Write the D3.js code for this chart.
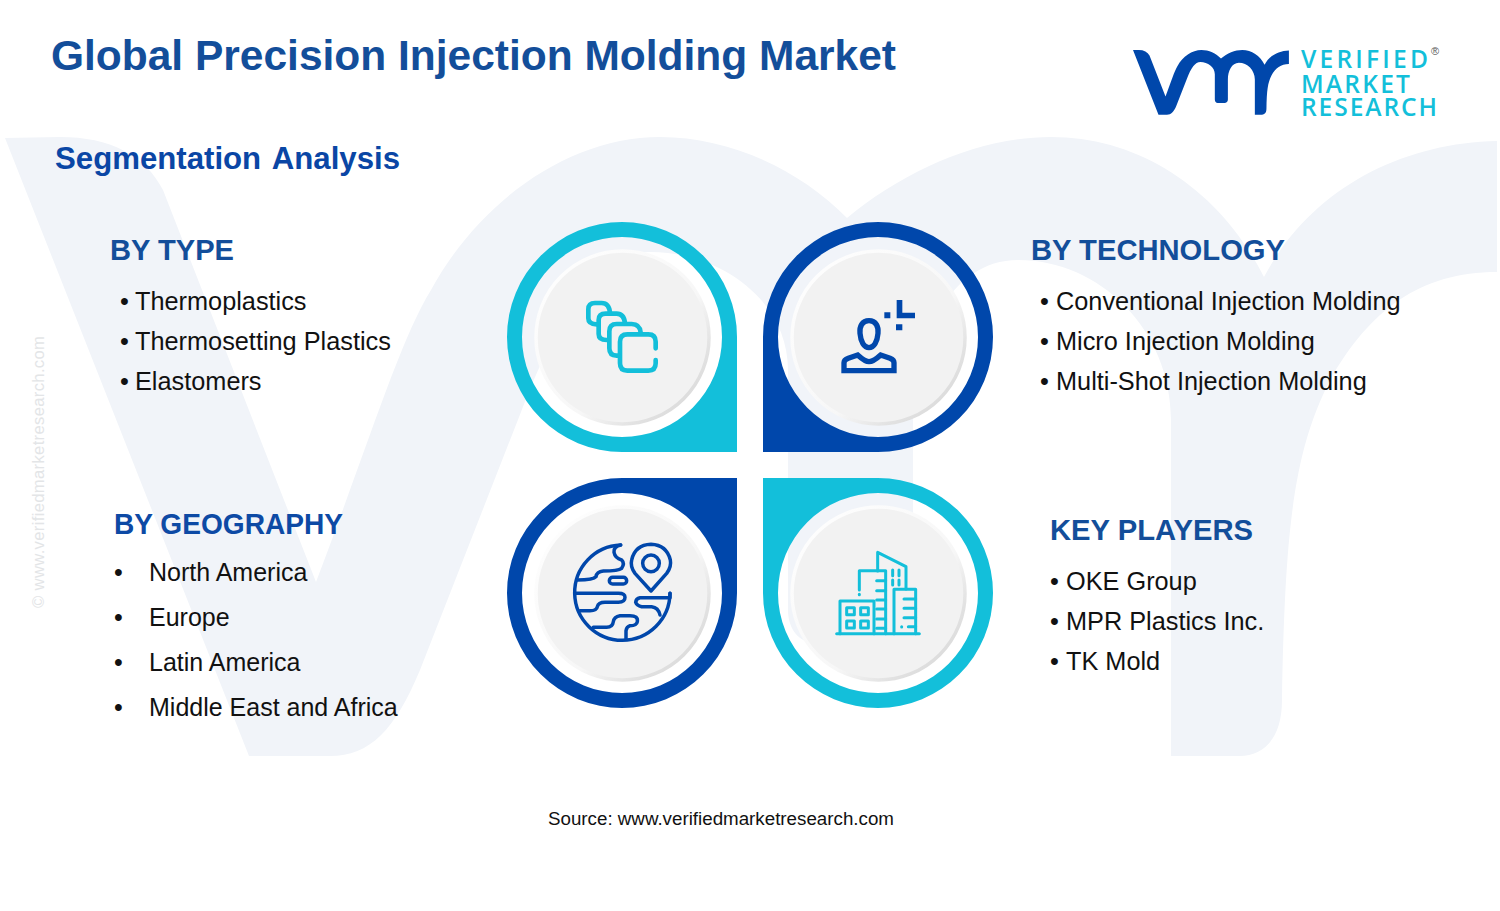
<!DOCTYPE html>
<html><head><meta charset="utf-8">
<script src="https://cdnjs.cloudflare.com/ajax/libs/d3/7.9.0/d3.min.js"></script>
<style>html,body{margin:0;padding:0;background:#fff}svg{display:block}text{font-family:"Liberation Sans",Arial,sans-serif}</style>
</head><body><svg id="c" width="1500" height="911" viewBox="0 0 1500 911"></svg>
<script>
const titleText = "Global Precision Injection Molding Market";
const subtitleText = "Segmentation Analysis";
const sourceText = "Source: www.verifiedmarketresearch.com";
const sideText = "© www.verifiedmarketresearch.com";
const typeItems = ["Thermoplastics","Thermosetting Plastics","Elastomers"];
const technologyItems = ["Conventional Injection Molding","Micro Injection Molding","Multi-Shot Injection Molding"];
const geographyItems = ["North America","Europe","Latin America","Middle East and Africa"];
const playerItems = ["OKE Group","MPR Plastics Inc.","TK Mold"];
const logoWords = ["VERIFIED","MARKET","RESEARCH"];

const BLUE="#0047ab", CYAN="#13bfda", HEAD="#134e9a";
const svg=d3.select("#c");
const defs=svg.append("defs");
const g=defs.append("linearGradient").attr("id","rim").attr("x1",0).attr("y1",0).attr("x2",1).attr("y2",1);
[[0,"#ffffff"],[.6,"#f7f7f7"],[.78,"#e2e2e2"],[1,"#d4d4d4"]].forEach(s=>g.append("stop").attr("offset",s[0]).attr("stop-color",s[1]));

const vmr="M5,138 L60,137 C110,137 145,155 163,190 L316,582 C370,440 400,340 431,290 C480,200 570,137 660,137 C730,137 800,170 847,218 C905,170 980,137 1051,137 C1140,137 1220,190 1264,277 C1310,190 1400,143 1497,141 L1497,272 C1420,272 1370,310 1330,380 C1295,450 1285,520 1282,700 C1282,740 1262,756 1240,756 L1171,756 L1171,420 C1171,330 1100,260 1018,260 C950,260 913,340 913,420 L913,610 C913,630 900,643 880,643 L815,643 C800,643 788,630 788,610 L788,370 C788,300 720,252 650,252 C600,252 560,310 521,412 L420,670 C395,730 370,756 330,756 L249,756 Z";
svg.append("path").attr("d",vmr).attr("fill","#f1f4f9");
svg.append("path").attr("d",vmr).attr("fill",BLUE)
  .attr("transform","translate(1133,50) scale(0.1045) translate(-5,-137)");

function text(x,y,s,size,fill,weight,len){
  const t=svg.append("text").attr("x",x).attr("y",y).attr("font-size",size).attr("fill",fill)
    .attr("font-weight",weight||"normal").text(s);
  if(len) t.attr("textLength",len).attr("lengthAdjust","spacingAndGlyphs");
  return t;
}
text(51,70,titleText,43,HEAD,"bold",845);
text(55,169,subtitleText,30.5,"#0a46a5","bold",345).attr("word-spacing",3);
text(548,825,sourceText,18.75,"#111");
svg.append("text").attr("transform","translate(44,608) rotate(-90)").attr("font-size",16.7).attr("fill","#e3e5e7").attr("letter-spacing",.3).text(sideText);

const logoY=d3.scaleOrdinal().domain(logoWords).range([68,93,116]);
const logoW=d3.scaleOrdinal().domain(logoWords).range([127,109,136]);
svg.append("g").selectAll("text").data(logoWords).join("text")
  .attr("x",1301).attr("y",d=>logoY(d)).attr("fill",CYAN).attr("font-size",24.6).attr("font-weight",600)
  .style("font-family","'Open Sans'").attr("textLength",d=>logoW(d)).attr("lengthAdjust","spacing").text(d=>d);
svg.append("text").attr("x",1431).attr("y",55).attr("fill","#555").attr("font-size",11).text("®");

const blocks=[
 {head:"BY TYPE",hx:110,hy:260,hl:124,color:HEAD,items:typeItems,bx:120,tx:135,y0:310,step:40,fs:25.3},
 {head:"BY TECHNOLOGY",hx:1031,hy:260,hl:254,color:HEAD,items:technologyItems,bx:1040,tx:1056,y0:310,step:40,fs:25.3},
 {head:"BY GEOGRAPHY",hx:114,hy:534,hl:229,color:"#0d4aa5",items:geographyItems,bx:114,tx:149,y0:581,step:45,fs:25},
 {head:"KEY PLAYERS",hx:1050,hy:540,hl:203,color:HEAD,items:playerItems,bx:1050,tx:1066,y0:590,step:40,fs:25.3}
];
blocks.forEach(b=>{
  text(b.hx,b.hy,b.head,29.3,b.color,"bold",b.hl);
  const y=d3.scaleLinear().domain([0,1]).range([b.y0,b.y0+b.step]);
  const gg=svg.append("g");
  gg.selectAll("text.t").data(b.items).join("text").attr("class","t").attr("x",b.tx).attr("y",(d,i)=>y(i)).attr("font-size",b.fs).attr("fill","#111").text(d=>d);
  gg.selectAll("text.b").data(b.items).join("text").attr("class","b").attr("x",b.bx).attr("y",(d,i)=>y(i)).attr("font-size",b.fs).attr("fill","#111").text("•");
});

function teardrop(cx,cy,sx,sy,color){
  const R=115,r=100,phi=Math.atan2(sy,sx),p=d3.path();
  p.arc(cx,cy,R,phi-Math.PI/4,phi+Math.PI/4,true);
  p.lineTo(cx+sx*R,cy+sy*R);p.closePath();
  p.moveTo(cx+r,cy);p.arc(cx,cy,r,0,2*Math.PI);p.closePath();
  svg.append("path").attr("d",p.toString()).attr("fill",color).attr("fill-rule","evenodd");
  svg.append("circle").attr("cx",cx+.5).attr("cy",cy+.5).attr("r",86.5).attr("fill","#f2f2f2").attr("stroke","url(#rim)").attr("stroke-width",3.5);
}
teardrop(622,337,1,1,CYAN);
teardrop(878,337,-1,1,BLUE);
teardrop(622,593,1,-1,BLUE);
teardrop(878,593,-1,-1,CYAN);

function icon(ox,oy,color,sw){
  return svg.append("g").attr("transform",`translate(${ox},${oy}) scale(${1/3})`).attr("fill","none").attr("stroke",color).attr("stroke-width",sw).attr("stroke-linecap","round").attr("stroke-linejoin","round");
}
// stacked layers
const i1=icon(490,210,CYAN,14);
["M497,415 V395 Q497,373 475,373 H412 Q390,373 390,395 V460 Q390,482 412,482 H475 Q497,482 497,460 V450",
 "M452,368 Q450,342 425,342 H380 Q358,342 358,364 V415 Q358,437 380,437 H385",
 "M405,340 Q402,311 380,311 H347 Q326,311 326,330 V372 Q326,390 350,390",
 "M360,310 Q358,279 335,279 H315 Q295,279 295,298 V325 Q295,343 320,343"].forEach(d=>i1.append("path").attr("d",d));
// person
const i2=icon(750,210,BLUE,16);
i2.attr("stroke-linecap","butt").attr("stroke-linejoin","miter");
i2.append("path").attr("d","M357,332 C378,332 386,350 384,370 C382,395 372,413 357,413 C342,413 332,395 330,370 C328,350 336,332 357,332 Z");
i2.append("path").attr("d","M282,482 V458 Q282,450 295,445 L323,435 Q345,455 357,455 Q370,455 392,435 L420,445 Q432,450 432,458 V482 Z");
i2.append("path").attr("stroke","none").attr("fill",BLUE).attr("d","M403,307 H421 V325 H403 Z M438,343 H457 V361 H438 Z M440,270 H457 V308 H495 V325 H440 Z");
// globe
const i3=icon(490,465,BLUE,10.5);
["M392,240 A143,143 0 1 0 540,385",
 "M392,240 Q370,245 372,262 Q375,280 395,285 Q405,295 395,310 Q385,318 340,318 Q320,320 318,335 Q310,345 262,345",
 "M255,385 H385 Q405,385 405,397 Q405,412 385,412 H345 Q325,412 322,425 Q320,437 300,437 H270",
 "M310,487 H350 Q368,487 370,470 Q372,455 390,452 H420 Q445,452 442,470 Q440,482 420,482 Q410,485 408,497 V522",
 "M540,385 V398 H450 Q438,400 437,412 Q440,422 455,425 H485 Q505,427 510,450",
 "M483,378 L435,325 Q420,305 425,285 Q435,240 483,238 Q530,240 541,285 Q545,305 530,325 Z"].forEach(d=>i3.append("path").attr("d",d));
i3.append("rect").attr("x",358).attr("y",337).attr("width",52).attr("height",20).attr("rx",10);
i3.append("circle").attr("cx",483).attr("cy",295).attr("r",25);
// buildings
const i4=icon(750,465,CYAN,9);
["M260,506 H508","M270,506 V408 H372 V506",
 "M328,375 V317 H407 V506","M328,388 V389",
 "M380,347 H407 M380,377 H407 M380,405 H407 M380,432 H407 M380,462 H407 M380,490 H407",
 "M383,318 V262 L468,305 V372",
 "M428,315 V332 M447,315 V332 M428,345 V360 M447,345 V360",
 "M432,506 V373 H497 V506",
 "M462,402 H497 M462,430 H497 M462,458 H497 M475,485 H497 M455,485 V486"].forEach(d=>i4.append("path").attr("d",d));
[[290,428],[332,428],[290,468],[332,468]].forEach(c=>i4.append("rect").attr("x",c[0]).attr("y",c[1]).attr("width",23).attr("height",21));
</script></body></html>
